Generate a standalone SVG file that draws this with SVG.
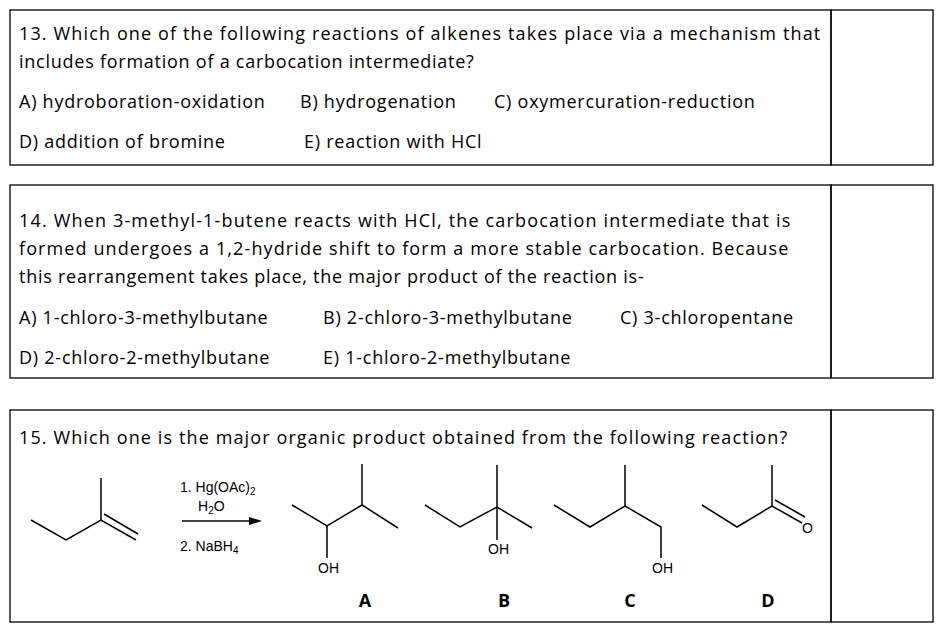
<svg xmlns="http://www.w3.org/2000/svg" width="943" height="630" viewBox="0 0 943 630">
<style>
.box{fill:none;stroke:#000;stroke-width:1.3}
.t{font-family:"Open Sans",sans-serif;font-size:18px;letter-spacing:0.75px;fill:#000}
.s{font-family:"Liberation Sans",Arial,sans-serif;font-size:14px;fill:#000}
.b{stroke:#000;stroke-width:1.5;fill:none}
.L{font-family:"Open Sans",sans-serif;font-size:18px;font-weight:bold;text-anchor:middle}
</style>
<rect width="943" height="630" fill="#fff"/>
<g id="q13">
<rect class="box" x="10" y="10" width="821" height="155"/><rect class="box" x="831" y="10" width="102" height="155"/>
<text class="t" x="19" y="40" textLength="802">13. Which one of the following reactions of alkenes takes place via a mechanism that</text>
<text class="t" x="19" y="68">includes formation of a carbocation intermediate?</text>
<text class="t" x="19" y="108">A) hydroboration-oxidation</text><text class="t" x="300" y="108">B) hydrogenation</text><text class="t" x="494" y="108">C) oxymercuration-reduction</text>
<text class="t" x="19" y="148">D) addition of bromine</text><text class="t" x="304" y="148">E) reaction with HCl</text>
</g>
<g id="q14">
<rect class="box" x="10" y="185" width="821" height="193"/><rect class="box" x="831" y="185" width="102" height="193"/>
<text class="t" x="19" y="227" textLength="772">14. When 3-methyl-1-butene reacts with HCl, the carbocation intermediate that is</text>
<text class="t" x="19" y="255" textLength="770">formed undergoes a 1,2-hydride shift to form a more stable carbocation.  Because</text>
<text class="t" x="19" y="283">this rearrangement takes place, the major product of the reaction is-</text>
<text class="t" x="19" y="324">A) 1-chloro-3-methylbutane</text><text class="t" x="323" y="324">B) 2-chloro-3-methylbutane</text><text class="t" x="620" y="324">C) 3-chloropentane</text>
<text class="t" x="19" y="364">D) 2-chloro-2-methylbutane</text><text class="t" x="323" y="364">E) 1-chloro-2-methylbutane</text>
</g>
<g id="q15">
<rect class="box" x="10" y="410" width="821" height="212"/><rect class="box" x="831" y="410" width="102" height="212"/>
<text class="t" x="19" y="444" textLength="769">15. Which one is the major organic product obtained from the following reaction?</text>
</g>
<g id="reactant"><polyline class="b" points="31,520 66,540 101,520 136,540"/><line class="b" x1="101" y1="520" x2="101" y2="478"/><line class="b" x1="104" y1="514" x2="138" y2="534"/></g>
<g id="reagents">
<text class="s" x="180" y="492">1. Hg(OAc)<tspan font-size="10" dy="3">2</tspan></text>
<text class="s" x="198" y="511">H<tspan font-size="10" dy="3">2</tspan><tspan dy="-3">O</tspan></text>
<text class="s" x="180" y="551">2. NaBH<tspan font-size="10" dy="3">4</tspan></text>
</g>
<g id="connectors"><line class="b" x1="182" y1="521" x2="252" y2="521"/><polygon points="262,521 249,517 249,525" fill="#000"/></g>
<g id="A"><polyline class="b" points="292,505 327,526 362,505 398,528"/><line class="b" x1="362" y1="505" x2="362" y2="464"/><line class="b" x1="327" y1="526" x2="327" y2="558"/><text class="s" x="318" y="573">OH</text><text class="L" x="365" y="607">A</text></g>
<g id="B"><polyline class="b" points="425,505 460,527 497,507 532,528"/><line class="b" x1="497" y1="507" x2="497" y2="540"/><line class="b" x1="497" y1="507" x2="497" y2="465"/><text class="s" x="488" y="554">OH</text><text class="L" x="504" y="607">B</text></g>
<g id="C"><polyline class="b" points="554,505 590,527 625,506 661,527 661,558"/><line class="b" x1="625" y1="506" x2="625" y2="465"/><text class="s" x="652" y="573">OH</text><text class="L" x="630" y="607">C</text></g>
<g id="D"><polyline class="b" points="702,505 737,527 772,506 802,523"/><line class="b" x1="772" y1="506" x2="772" y2="465"/><line class="b" x1="775" y1="500" x2="805" y2="517"/><text class="s" x="802" y="533">O</text><text class="L" x="768" y="607">D</text></g>
</svg>
